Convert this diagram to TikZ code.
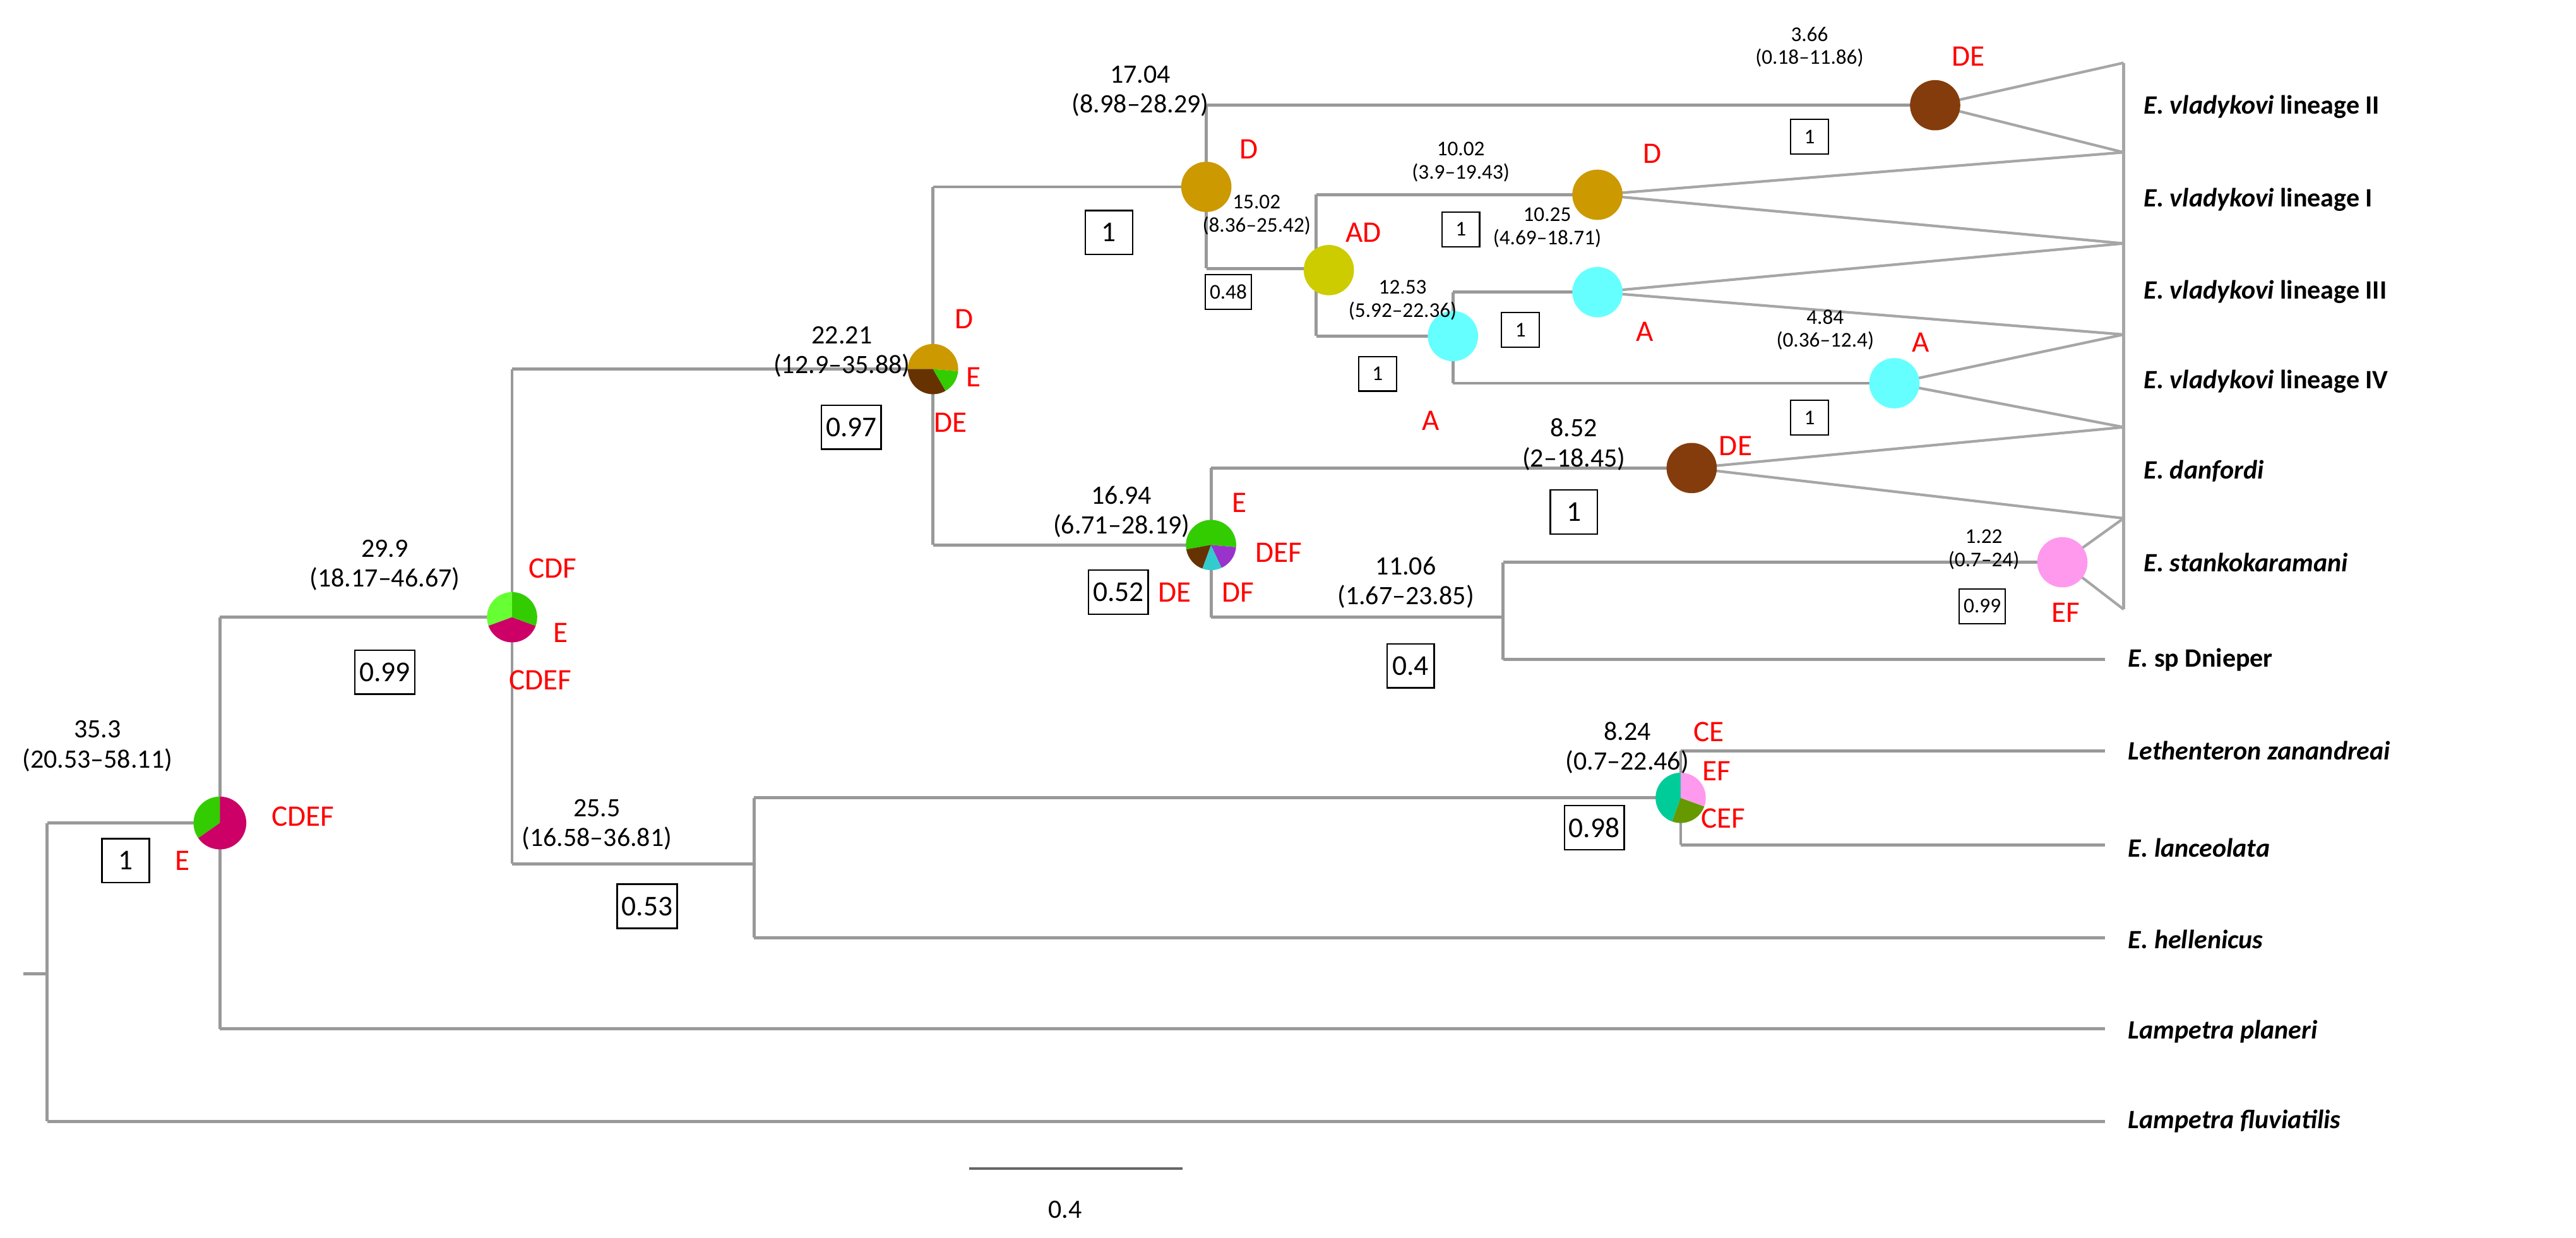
\documentclass[tikz,border=0pt]{standalone}
\usepackage{fontspec}
\setmainfont{Carlito}
\begin{document}
\begin{tikzpicture}[x=0.025cm,y=-0.025cm,
  br/.style={draw=black!40,line width=1.4pt},
  tri/.style={draw=black!35,line width=1.2pt},
  big/.style={font=\fontsize{12}{13.5}\selectfont},
  sm/.style={font=\fontsize{9.5}{10.5}\selectfont},
  lab/.style={text=red,font=\fontsize{13.5}{14}\selectfont},
  bx/.style={draw=black,line width=0.7pt,minimum width=0.75cm,minimum height=0.7cm,inner sep=2pt,font=\fontsize{13}{14}\selectfont},
  sbx/.style={draw=black,line width=0.6pt,minimum width=0.6cm,minimum height=0.55cm,inner sep=2pt,font=\fontsize{9.5}{10}\selectfont},
  tx/.style={anchor=west,font=\bfseries\fontsize{12}{13}\selectfont}]
\definecolor{gold}{HTML}{CC9900}\definecolor{brn}{HTML}{843C0C}
\definecolor{dbrn}{HTML}{663300}\definecolor{grn}{HTML}{33CC00}
\definecolor{lime}{HTML}{66FF33}\definecolor{mag}{HTML}{CC0066}
\definecolor{cyn}{HTML}{66FFFF}\definecolor{yel}{HTML}{CCCC00}
\definecolor{pnk}{HTML}{FF99EE}\definecolor{teal}{HTML}{00CC99}
\definecolor{olv}{HTML}{669900}\definecolor{prp}{HTML}{9933CC}
\definecolor{cyn2}{HTML}{33CCCC}
\newcommand\slice[5]{\fill[#5] (#1) -- ++(#3:#2) arc[start angle=#3,end angle=#4,radius=#2] -- cycle;}
\useasboundingbox (0,0) rectangle (1640,788);
% coordinates
\coordinate (r0) at (15,620); \coordinate (r) at (30,620);
\coordinate (rT) at (30,524); \coordinate (rB) at (30,714);
\coordinate (n1) at (140,524); \coordinate (n1T) at (140,393); \coordinate (n1B) at (140,655);
\coordinate (n2) at (326,393); \coordinate (n2T) at (326,235); \coordinate (n2B) at (326,550);
\coordinate (n3) at (480,550); \coordinate (n3T) at (480,508); \coordinate (n3B) at (480,597);
\coordinate (n4) at (1070,508); \coordinate (n4T) at (1070,478); \coordinate (n4B) at (1070,538);
\coordinate (n5) at (594,235); \coordinate (n5T) at (594,119); \coordinate (n5B) at (594,347);
\coordinate (n6) at (768,119); \coordinate (n6T) at (768,67); \coordinate (n6B) at (768,171);
\coordinate (n7) at (838,171); \coordinate (n7T) at (838,124); \coordinate (n7B) at (838,214);
\coordinate (n8) at (925,214); \coordinate (n8T) at (925,186); \coordinate (n8B) at (925,244);
\coordinate (n9) at (771,347); \coordinate (n9T) at (771,298); \coordinate (n9B) at (771,393);
\coordinate (n10) at (957,393); \coordinate (n10T) at (957,358); \coordinate (n10B) at (957,420);
\coordinate (pII) at (1232,67); \coordinate (pI) at (1017,124); \coordinate (pIII) at (1017,186);
\coordinate (pIV) at (1206,244); \coordinate (pdan) at (1077,298); \coordinate (pst) at (1313,358);
\foreach \i/\y in {0/40,1/97,2/155,3/213,4/272,5/330,6/388}{\coordinate (c\i) at (1352,\y);}
\coordinate (eLet) at (1340,478); \coordinate (eLan) at (1340,538); \coordinate (eHel) at (1340,597);
\coordinate (ePla) at (1340,655); \coordinate (eFlu) at (1340,714); \coordinate (eDni) at (1340,420);
% branches
\draw[br] (r0) -- (r); \draw[br] (rT) -- (rB); \draw[br] (rB) -- (eFlu); \draw[br] (rT) -- (n1);
\draw[br] (n1T) -- (n1B); \draw[br] (n1B) -- (ePla); \draw[br] (n1T) -- (n2);
\draw[br] (n2T) -- (n2B); \draw[br] (n2B) -- (n3); \draw[br] (n3T) -- (n3B); \draw[br] (n3B) -- (eHel);
\draw[br] (n3T) -- (n4); \draw[br] (n4T) -- (n4B); \draw[br] (n4T) -- (eLet); \draw[br] (n4B) -- (eLan);
\draw[br] (n2T) -- (n5); \draw[br] (n5T) -- (n5B); \draw[br] (n5T) -- (n6);
\draw[br] (n6T) -- (n6B); \draw[br] (n6T) -- (pII); \draw[br] (n6B) -- (n7);
\draw[br] (n7T) -- (n7B); \draw[br] (n7T) -- (pI); \draw[br] (n7B) -- (n8);
\draw[br] (n8T) -- (n8B); \draw[br] (n8T) -- (pIII); \draw[br] (n8B) -- (pIV);
\draw[br] (n5B) -- (n9); \draw[br] (n9T) -- (n9B); \draw[br] (n9T) -- (pdan); \draw[br] (n9B) -- (n10);
\draw[br] (n10T) -- (n10B); \draw[br] (n10T) -- (pst); \draw[br] (n10B) -- (eDni);
% triangles
\draw[tri] (c0) -- (c6);
\draw[tri] (c0) -- (pII) -- (c1); \draw[tri] (c1) -- (pI) -- (c2); \draw[tri] (c2) -- (pIII) -- (c3);
\draw[tri] (c3) -- (pIV) -- (c4); \draw[tri] (c4) -- (pdan) -- (c5); \draw[tri] (c5) -- (pst) -- (c6);
% pies
\slice{n1}{0.42cm}{90}{215}{grn}\slice{n1}{0.42cm}{215}{450}{mag}
\slice{n2}{0.4cm}{90}{200}{lime}\slice{n2}{0.4cm}{200}{340}{mag}\slice{n2}{0.4cm}{340}{450}{grn}
\slice{n5}{0.4cm}{-5}{180}{gold}\slice{n5}{0.4cm}{180}{300}{dbrn}\slice{n5}{0.4cm}{300}{355}{grn}
\slice{n9}{0.4cm}{-5}{190}{grn}\slice{n9}{0.4cm}{190}{250}{dbrn}\slice{n9}{0.4cm}{250}{295}{cyn2}\slice{n9}{0.4cm}{295}{355}{prp}
\slice{n4}{0.4cm}{90}{250}{teal}\slice{n4}{0.4cm}{250}{340}{olv}\slice{n4}{0.4cm}{340}{450}{pnk}
\node[circle,fill=gold,minimum size=0.8cm,inner sep=0] (q6) at (n6) {};
\node[circle,fill=yel,minimum size=0.8cm,inner sep=0] (q7) at (846,172) {};
\node[circle,fill=cyn,minimum size=0.8cm,inner sep=0] (q8) at (n8) {};
\node[circle,fill=brn,minimum size=0.8cm,inner sep=0] (qII) at (pII) {};
\node[circle,fill=gold,minimum size=0.8cm,inner sep=0] (qI) at (pI) {};
\node[circle,fill=cyn,minimum size=0.8cm,inner sep=0] (qIII) at (pIII) {};
\node[circle,fill=cyn,minimum size=0.8cm,inner sep=0] (qIV) at (pIV) {};
\node[circle,fill=brn,minimum size=0.8cm,inner sep=0] (qdan) at (pdan) {};
\node[circle,fill=pnk,minimum size=0.8cm,inner sep=0] (qst) at (pst) {};
% red labels
\node[lab] (l1) at (193,520) {CDEF}; \node[lab] (l2) at (116,548) {E};
\node[lab] (l3) at (352,362) {CDF}; \node[lab] (l4) at (357,403) {E}; \node[lab] (l5) at (344,433) {CDEF};
\node[lab] (l6) at (614,203) {D}; \node[lab] (l7) at (620,240) {E}; \node[lab] (l8) at (605,269) {DE};
\node[lab] (l9) at (789,320) {E}; \node[lab] (l10) at (814,352) {DEF}; \node[lab] (l11) at (748,377) {DE}; \node[lab] (l12) at (788,377) {DF};
\node[lab] (l13) at (795,95) {D}; \node[lab] (l14) at (1052,98) {D}; \node[lab] (l15) at (868,148) {AD};
\node[lab] (l16) at (911,268) {A}; \node[lab] (l17) at (1047,211) {A}; \node[lab] (l18) at (1223,218) {A};
\node[lab] (l19) at (1105,284) {DE}; \node[lab] (l20) at (1253,36) {DE}; \node[lab] (l21) at (1315,390) {EF};
\node[lab] (l22) at (1088,466) {CE}; \node[lab] (l23) at (1093,491) {EF}; \node[lab] (l24) at (1097,521) {CEF};
% ages
\node[big,align=center] (a1) at (62,475) {35.3\\(20.53–58.11)}; \node[bx] (b1) at (80,548) {1};
\node[big,align=center] (a2) at (245,360) {29.9\\(18.17–46.67)}; \node[bx] (b2) at (245,428) {0.99};
\node[big,align=center] (a3) at (380,525) {25.5\\(16.58–36.81)}; \node[bx] (b3) at (412,577) {0.53};
\node[big,align=center] (a4) at (536,224) {22.21\\(12.9–35.88)}; \node[bx] (b4) at (542,272) {0.97};
\node[big,align=center] (a5) at (726,58) {17.04\\(8.98–28.29)}; \node[bx] (b5) at (706,148) {1};
\node[big,align=center] (a6) at (714,326) {16.94\\(6.71–28.19)}; \node[bx] (b6) at (712,377) {0.52};
\node[big,align=center] (a7) at (1002,283) {8.52\\(2–18.45)}; \node[bx] (b7) at (1002,326) {1};
\node[big,align=center] (a8) at (895,371) {11.06\\(1.67–23.85)}; \node[bx] (b8) at (898,424) {0.4};
\node[big,align=center] (a9) at (1036,476) {8.24\\(0.7–22.46)}; \node[bx] (b9) at (1015,527) {0.98};
\node[sm,align=center] (s1) at (800,137) {15.02\\(8.36–25.42)}; \node[sbx] (t1) at (782,186) {0.48};
\node[sm,align=center] (s2) at (893,191) {12.53\\(5.92–22.36)}; \node[sbx] (t2) at (877,238) {1};
\node[sm,align=center] (s3) at (985,145) {10.25\\(4.69–18.71)}; \node[sbx] (t3) at (968,210) {1};
\node[sm,align=center] (s4) at (930,103) {10.02\\(3.9–19.43)}; \node[sbx] (t4) at (930,146) {1};
\node[sm,align=center] (s5) at (1152,30) {3.66\\(0.18–11.86)}; \node[sbx] (t5) at (1152,87) {1};
\node[sm,align=center] (s6) at (1162,210) {4.84\\(0.36–12.4)}; \node[sbx] (t6) at (1152,266) {1};
\node[sm,align=center] (s7) at (1263,350) {1.22\\(0.7–24)}; \node[sbx] (t7) at (1262,386) {0.99};
% taxa
\node[tx] (x1) at (1360,68) {\textit{E. vladykovi} lineage II};
\node[tx] (x2) at (1360,127) {\textit{E. vladykovi} lineage I};
\node[tx] (x3) at (1360,186) {\textit{E. vladykovi} lineage III};
\node[tx] (x4) at (1360,243) {\textit{E. vladykovi} lineage IV};
\node[tx] (x5) at (1360,300) {\textit{E. danfordi}};
\node[tx] (x6) at (1360,358) {\textit{E. stankokaramani}};
\node[tx] (x7) at (1350,420) {\textit{E.} sp Dnieper};
\node[tx] (x8) at (1350,478) {\textit{Lethenteron zanandreai}};
\node[tx] (x9) at (1350,540) {\textit{E. lanceolata}};
\node[tx] (x10) at (1350,598) {\textit{E. hellenicus}};
\node[tx] (x11) at (1350,657) {\textit{Lampetra planeri}};
\node[tx] (x12) at (1350,714) {\textit{Lampetra fluviatilis}};
% scale bar
\coordinate (sb1) at (617,744); \coordinate (sb2) at (753,744);
\draw[draw=black!60,line width=1pt] (sb1) -- (sb2);
\node[big] (sbl) at (678,770) {0.4};
\end{tikzpicture}
\end{document}
